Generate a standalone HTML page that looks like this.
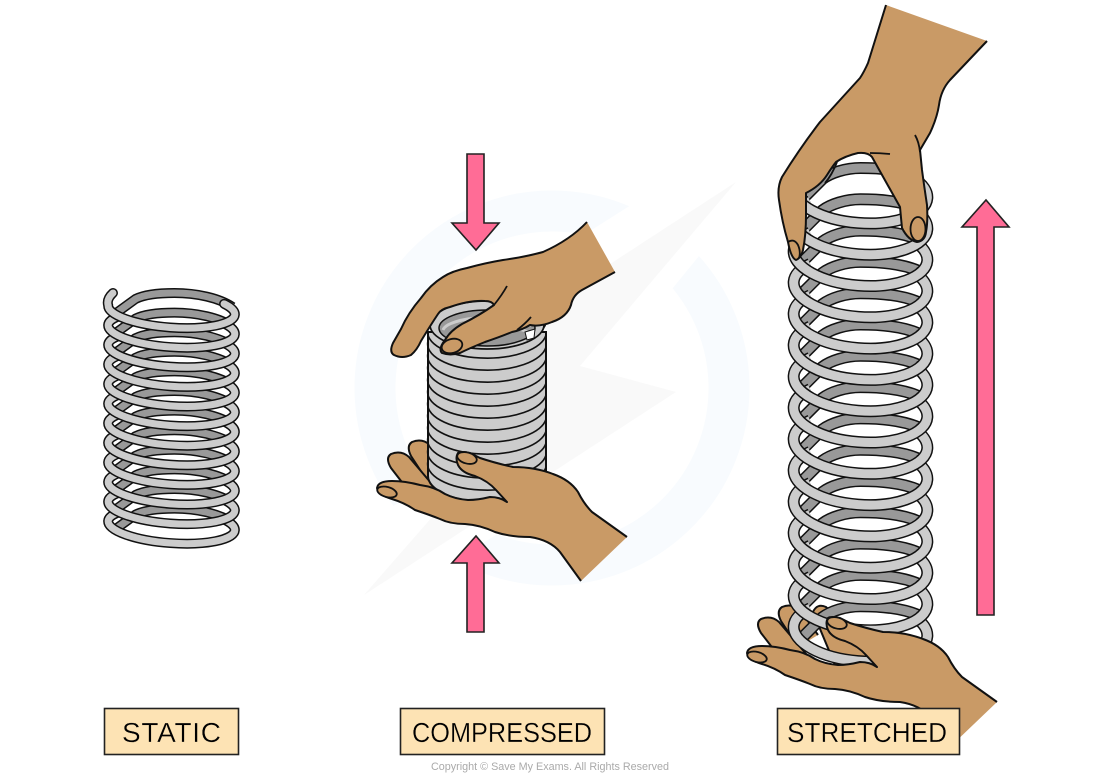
<!DOCTYPE html>
<html><head><meta charset="utf-8"><title>Springs</title>
<style>html,body{margin:0;padding:0;background:#fff}svg{display:block}</style></head>
<body>
<svg width="1100" height="775" viewBox="0 0 1100 775" xmlns="http://www.w3.org/2000/svg" font-family="'Liberation Sans',sans-serif">
<defs>
<path id="sbp" d="M61,-3 C48,-12 25,-17 3,-17 C-14,-17 -28,-15 -36,-11 L-58,5"/>
<path id="sfp" transform="rotate(4.2)" d="M-52,-10 A63.5,17.5 0 0 0 -63.5,0 A63.5,17.5 0 0 0 63.5,0 A63.5,17.5 0 0 0 52,-10"/>
<path id="stp" transform="rotate(4.2)" d="M-59.6,-12.7 C-64,-8 -65,-4 -63.5,0 A63.5,17.5 0 0 0 63.5,0 A63.5,17.5 0 0 0 52,-10"/>
<g id="sb" fill="none"><use href="#sbp" stroke="#111" stroke-width="10"/><use href="#sbp" stroke="#999" stroke-width="7"/></g>
<g id="sf" fill="none"><use href="#sfp" stroke="#111" stroke-width="10"/><use href="#sfp" stroke="#ccc" stroke-width="7"/></g>
<g id="st" fill="none" stroke-linecap="round"><use href="#stp" stroke="#111" stroke-width="10"/><use href="#stp" stroke="#ccc" stroke-width="7"/></g>

<path id="lbp" d="M58,-21 C40,-29 15,-30 0,-30 C-15,-30 -30,-25 -38,-19 L-62,5"/>
<path id="lfp" transform="translate(0,-5) rotate(4.5)" d="M-52,-18.9 A67,30 0 0 0 -67,0 A67,30 0 0 0 67,0 A67,30 0 0 0 52,-18.9"/>
<g id="lb" fill="none"><use href="#lbp" stroke="#111" stroke-width="12"/><use href="#lbp" stroke="#999" stroke-width="9"/></g>
<g id="lf" fill="none"><use href="#lfp" stroke="#111" stroke-width="12"/><use href="#lfp" stroke="#ccc" stroke-width="9"/></g>

<g id="hfingers" fill="#c99a66" stroke="#111" stroke-width="2" stroke-linejoin="round">
  <path d="M428,482 L411,456 Q406,446 412,442 Q422,438 430,445 L448,470"/>
  <path d="M408,490 L391,468 Q385,458 391,454 Q401,450 409,457 L437,490"/>
</g>
<g id="hmain">
  <path fill="#c99a66" stroke="#111" stroke-width="2" stroke-linejoin="round" d="M627,537 L592,512 Q584,504 578,492 Q570,480 553,474 Q535,467 513,467 Q495,463 480,458 L470,453 Q461,451 458,453 Q455,458 458,465 Q462,473 475,476 Q488,481 496,490 L507,502 Q500,497 490,497 Q478,500 468,500 Q455,499 445,494 Q435,487 420,485 Q405,481 392,481 Q378,481 377,488 Q378,495 392,499 Q405,503 415,510 Q430,515 440,519 Q450,524 465,524 Q480,525 495,532 Q510,537 530,537 Q550,540 560,552 L581,581"/>
  <ellipse cx="387" cy="492" rx="10" ry="5" transform="rotate(15 387 492)" fill="#c99a66" stroke="#111" stroke-width="1.8"/>
  <ellipse cx="467" cy="458" rx="10" ry="5.5" transform="rotate(15 467 458)" fill="#c99a66" stroke="#111" stroke-width="1.8"/>
</g>
</defs>

<rect width="1100" height="775" fill="#fff"/>

<!-- watermark -->
<circle cx="552" cy="388" r="177" fill="none" stroke="#f8fbfe" stroke-width="41"/>
<polygon points="704,188 631,205 560,250 628,343 699,256 770,220" fill="#fff"/>
<polygon points="395,505 470,470 520,520 404,592 370,610 345,540" fill="#fff"/>
<polygon points="736,182 455,365 530,405 364,595 676,392 580,366" fill="#f9f9f9"/>

<!-- static spring -->
<g transform="translate(171.5,0)">
<use href="#sb" y="525.6"/><use href="#sb" y="506"/><use href="#sb" y="486.4"/><use href="#sb" y="466.8"/><use href="#sb" y="447.2"/><use href="#sb" y="427.6"/><use href="#sb" y="408"/><use href="#sb" y="388.4"/><use href="#sb" y="368.8"/><use href="#sb" y="349.2"/><use href="#sb" y="329.6"/><use href="#sb" y="310"/>
<use href="#sf" y="525.6"/><use href="#sf" y="506"/><use href="#sf" y="486.4"/><use href="#sf" y="466.8"/><use href="#sf" y="447.2"/><use href="#sf" y="427.6"/><use href="#sf" y="408"/><use href="#sf" y="388.4"/><use href="#sf" y="368.8"/><use href="#sf" y="349.2"/><use href="#sf" y="329.6"/><use href="#st" y="310"/>
</g>

<!-- compressed: arrows -->
<path d="M467,154 H484 V223 H499 L476,250 L452,223 H467 Z" fill="#ff6c96" stroke="#222" stroke-width="1.6" stroke-linejoin="miter"/>
<path d="M467,632 H484 V563 H499 L476,536 L452,563 H467 Z" fill="#ff6c96" stroke="#222" stroke-width="1.6" stroke-linejoin="miter"/>

<!-- compressed spring -->
<use href="#hfingers"/>
<path d="M428,332 V476 A59,26 0 0 0 546,476 V332 Z" fill="#ccc" stroke="#111" stroke-width="2"/>
<g fill="none" stroke="#111" stroke-width="1.6">
<path d="M428,317 A59,26 0 0 0 546,323"/>
<path d="M428,329 A59,26 0 0 0 546,335"/>
<path d="M428,341 A59,26 0 0 0 546,347"/>
<path d="M428,353 A59,26 0 0 0 546,359"/>
<path d="M428,365 A59,26 0 0 0 546,371"/>
<path d="M428,377 A59,26 0 0 0 546,383"/>
<path d="M428,389 A59,26 0 0 0 546,395"/>
<path d="M428,401 A59,26 0 0 0 546,407"/>
<path d="M428,413 A59,26 0 0 0 546,419"/>
<path d="M428,425 A59,26 0 0 0 546,431"/>
<path d="M428,437 A59,26 0 0 0 546,443"/>
<path d="M428,449 A59,26 0 0 0 546,455"/>
<path d="M428,461 A59,26 0 0 0 546,467"/>
</g>
<ellipse cx="487" cy="325" rx="57" ry="24" fill="#ccc" stroke="#111" stroke-width="1.7"/>
<ellipse cx="487" cy="328" rx="48" ry="18" fill="#999" stroke="#111" stroke-width="1.5"/>
<path d="M443,330 A46,14 0 0 1 531,326 M447,338 A44,12 0 0 1 528,332" fill="none" stroke="#ccc" stroke-width="3"/>
<path d="M525,332 L535,329 L534,338 L527,340 Z" fill="#fff" stroke="#111" stroke-width="1"/>

<!-- compressed top hand -->
<path fill="#c99a66" stroke="#111" stroke-width="2" stroke-linejoin="round" d="M587,222 Q570,240 543,252 Q525,257 503,260 Q485,263 467,268 Q452,271 443,277 Q430,285 421,298 Q408,313 401,329 L393,343 Q389,352 394,355 Q402,359 411,355 Q417,350 421,341 Q430,326 438,314 Q441,309 450,307 Q470,300 485,301 Q492,301 494,305 Q480,315 462,324 Q450,331 445,340 Q438,349 442,353 Q450,356 460,353 Q470,348 485,342 Q500,337 512,332 Q522,330 530,325 Q540,327 552,322 Q567,317 571,305 Q573,295 582,290 L615,272"/>
<path d="M507,286 Q502,295 494,305 M531,317 Q525,324 517,330" fill="none" stroke="#111" stroke-width="1.8"/>
<ellipse cx="452" cy="346" rx="10.5" ry="7" transform="rotate(-15 452 346)" fill="#c99a66" stroke="#111" stroke-width="1.8"/>

<!-- compressed bottom hand -->
<use href="#hmain"/>

<!-- stretched: arrow -->
<path d="M977,615 H994 V227 H1009 L986,200 L962,227 H977 Z" fill="#ff6c96" stroke="#222" stroke-width="1.6" stroke-linejoin="miter"/>

<!-- stretched bottom fingers -->
<use href="#hfingers" x="370" y="165"/>
<path d="M813,612 Q817,603 826,607 L885,668 L835,665 Z" fill="#c99a66" stroke="#111" stroke-width="2" stroke-linejoin="round"/>

<!-- stretched spring -->
<g transform="translate(860.5,0)">
<use href="#lb" y="636.2"/><use href="#lb" y="604.9"/><use href="#lb" y="573.6"/><use href="#lb" y="542.3"/><use href="#lb" y="511"/><use href="#lb" y="479.7"/><use href="#lb" y="448.4"/><use href="#lb" y="417.1"/><use href="#lb" y="385.8"/><use href="#lb" y="354.5"/><use href="#lb" y="323.2"/><use href="#lb" y="291.9"/><use href="#lb" y="260.6"/><use href="#lb" y="229.3"/><use href="#lb" y="198"/>
<use href="#lf" y="636.2"/><use href="#lf" y="604.9"/><use href="#lf" y="573.6"/><use href="#lf" y="542.3"/><use href="#lf" y="511"/><use href="#lf" y="479.7"/><use href="#lf" y="448.4"/><use href="#lf" y="417.1"/><use href="#lf" y="385.8"/><use href="#lf" y="354.5"/><use href="#lf" y="323.2"/><use href="#lf" y="291.9"/><use href="#lf" y="260.6"/><use href="#lf" y="229.3"/><use href="#lf" y="198"/>
</g>

<!-- stretched lower hand -->
<use href="#hmain" x="370" y="165"/>

<!-- stretched upper hand -->
<path fill="#c99a66" stroke="#111" stroke-width="2" stroke-linejoin="round" d="M886,5 L868,63 Q864,72 860,78 L820,122 Q800,148 782,177 Q777,187 779,200 Q782,222 788,242 Q791,258 796,260 Q801,258 803,250 Q806,235 806,215 L806,193 Q820,186 827,175 Q832,167 836,162 Q845,156 858,153 Q868,152 872,157 L900,207 Q901,218 902,228 Q908,240 917,242 Q925,241 926,232 Q928,222 927,205 Q924,185 922,170 Q921,160 920,150 L930,133 Q937,118 939,105 Q941,90 950,80 L987,41"/>
<path d="M870,153 Q880,153 890,154 M915,135 Q919,142 920,152 M837,162 Q832,175 825,183" fill="none" stroke="#111" stroke-width="1.8"/>
<path d="M788,242 Q794,238 798,245 Q801,252 799,258" fill="none" stroke="#111" stroke-width="1.8"/>
<ellipse cx="918" cy="229" rx="7.5" ry="12" fill="#c99a66" stroke="#111" stroke-width="1.8"/>

<!-- labels -->
<g fill="#fde3b4" stroke="#222" stroke-width="1.6">
<rect x="104.5" y="708.5" width="134" height="46"/>
<rect x="400.5" y="708.5" width="204" height="46"/>
<rect x="777.5" y="708.5" width="182" height="46"/>
</g>
<g font-size="28" fill="#000" stroke="#fde3b4" stroke-width="0.3">
<text x="122" y="742" textLength="99" lengthAdjust="spacing">STATIC</text>
<text x="412" y="742" textLength="180" lengthAdjust="spacingAndGlyphs">COMPRESSED</text>
<text x="787" y="742" textLength="160" lengthAdjust="spacingAndGlyphs">STRETCHED</text>
</g>
<text x="431" y="770" font-size="11" fill="#aaa" textLength="238" lengthAdjust="spacingAndGlyphs">Copyright © Save My Exams. All Rights Reserved</text>
</svg>
</body></html>
